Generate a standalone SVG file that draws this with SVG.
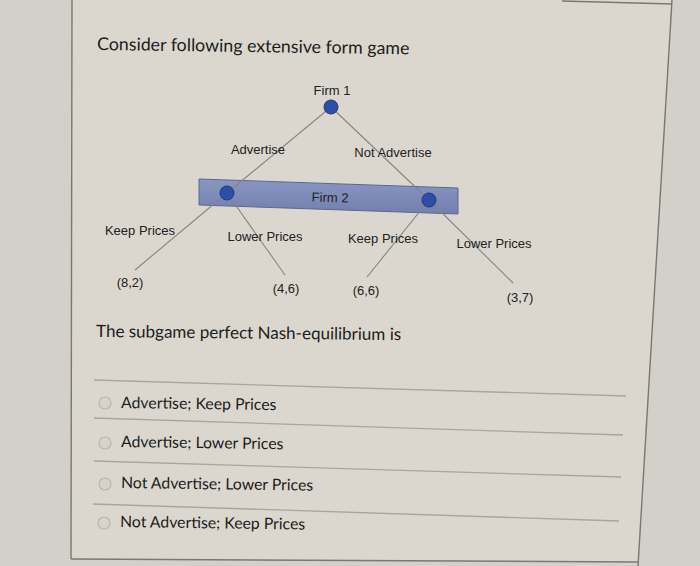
<svg xmlns="http://www.w3.org/2000/svg" width="700" height="566" viewBox="0 0 700 566">
<defs>
<style>
.lato{font-family:Lato,"Open Sans","Liberation Sans",sans-serif;fill:#1c1c1c}
.t{font-family:"Liberation Sans",Arial,sans-serif;font-size:13px;fill:#222}
.edge{stroke:#858585;stroke-width:1.1;fill:none}
.node{fill:#2b4fa6;stroke:#1d3a80;stroke-width:1}
.sep{stroke:#a9a59d;stroke-width:1.3}
.radio{fill:#d6d3cc;stroke:#b9b6af;stroke-width:1.2}
</style>
<linearGradient id="bar" x1="0" y1="0" x2="0" y2="1">
<stop offset="0" stop-color="#8a96c2"/>
<stop offset="1" stop-color="#727fad"/>
</linearGradient>
</defs>
<rect width="700" height="566" fill="#d3d0c9"/>
<polygon points="72,0 672,0 638,562 71,559" fill="#dbd7cf"/>
<g id="card-border" stroke="#7a7873" stroke-width="1.4" fill="none">
<line x1="72" y1="0" x2="71" y2="559"/>
<line x1="71" y1="559" x2="638" y2="562"/>
<line x1="672" y1="0" x2="638" y2="566"/>
<line x1="562" y1="1" x2="672" y2="4"/>
</g>
<text class="lato" font-size="17.8" x="97" y="50" transform="rotate(0.8 97 50)">Consider following extensive form game</text>

<g id="firm2-bar">
<polygon points="199,179 458,188 458,214 199,205" fill="url(#bar)" stroke="#5d6891" stroke-width="1"/>
<text class="t" x="330" y="202" text-anchor="middle" transform="rotate(1.5 330 202)">Firm 2</text>
</g>

<g id="connectors">
<line class="edge" x1="331" y1="107" x2="227" y2="193"/>
<line class="edge" x1="331" y1="107" x2="429" y2="200"/>
<line class="edge" x1="227" y1="193" x2="135" y2="270"/>
<line class="edge" x1="227" y1="193" x2="285" y2="275"/>
<line class="edge" x1="429" y1="200" x2="367" y2="277"/>
<line class="edge" x1="429" y1="200" x2="513" y2="283"/>
</g>

<g id="edge-labels">
<text class="t" x="258" y="154" text-anchor="middle">Advertise</text>
<text class="t" x="393" y="157" text-anchor="middle">Not Advertise</text>
<text class="t" x="140" y="235" text-anchor="middle">Keep Prices</text>
<text class="t" x="265" y="241" text-anchor="middle">Lower Prices</text>
<text class="t" x="383" y="243" text-anchor="middle">Keep Prices</text>
<text class="t" x="494" y="248" text-anchor="middle">Lower Prices</text>
</g>

<g id="firm1">
<text class="t" x="332" y="95" text-anchor="middle">Firm 1</text>
<circle class="node" cx="331" cy="107" r="7"/>
</g>
<g id="firm2-left">
<circle class="node" cx="227" cy="193" r="7"/>
</g>
<g id="firm2-right">
<circle class="node" cx="429" cy="200" r="7"/>
</g>

<g id="payoff-8-2"><text class="t" x="130" y="287" text-anchor="middle">(8,2)</text></g>
<g id="payoff-4-6"><text class="t" x="286" y="293" text-anchor="middle">(4,6)</text></g>
<g id="payoff-6-6"><text class="t" x="366" y="295" text-anchor="middle">(6,6)</text></g>
<g id="payoff-3-7"><text class="t" x="520" y="302" text-anchor="middle">(3,7)</text></g>

<text class="lato" font-size="17" x="96" y="337" transform="rotate(0.6 96 337)">The subgame perfect Nash-equilibrium is</text>

<g id="separators">
<line class="sep" x1="94" y1="380" x2="626" y2="396"/>
<line class="sep" x1="94" y1="418" x2="623" y2="435"/>
<line class="sep" x1="94" y1="461" x2="621" y2="477"/>
<line class="sep" x1="93" y1="504" x2="619" y2="521"/>
</g>

<g id="options">
<circle class="radio" cx="105" cy="403" r="6"/>
<text class="lato" font-size="15.8" x="121" y="408" transform="rotate(0.8 121 408)">Advertise; Keep Prices</text>
<circle class="radio" cx="105" cy="443" r="6"/>
<text class="lato" font-size="15.8" x="121" y="447" transform="rotate(0.8 121 447)">Advertise; Lower Prices</text>
<circle class="radio" cx="105" cy="484" r="6"/>
<text class="lato" font-size="15.8" x="121" y="488" transform="rotate(0.8 121 488)">Not Advertise; Lower Prices</text>
<circle class="radio" cx="104" cy="523" r="6"/>
<text class="lato" font-size="15.8" x="120" y="527" transform="rotate(0.8 120 527)">Not Advertise; Keep Prices</text>
</g>
</svg>
